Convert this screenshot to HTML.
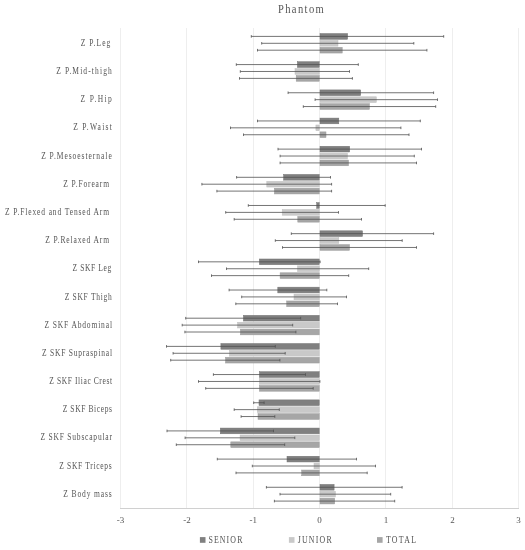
<!DOCTYPE html>
<html><head><meta charset="utf-8"><title>Phantom</title>
<style>
html,body{margin:0;padding:0;background:#fff;}
body{width:525px;height:550px;overflow:hidden;}
svg{display:block;}
text{font-family:'Liberation Serif', serif;fill:#555555;}
.tk{font-size:9px;}
</style></head>
<body>
<svg width="525" height="550" viewBox="0 0 525 550">
<rect x="0" y="0" width="525" height="550" fill="#fff"/>
<rect x="120" y="28" width="1" height="480" fill="#eeeeee"/>
<rect x="186" y="28" width="1" height="480" fill="#eeeeee"/>
<rect x="253" y="28" width="1" height="480" fill="#eeeeee"/>
<rect x="319" y="28" width="1" height="480" fill="#eeeeee"/>
<rect x="385" y="28" width="1" height="480" fill="#eeeeee"/>
<rect x="452" y="28" width="1" height="480" fill="#eeeeee"/>
<rect x="518" y="28" width="1" height="480" fill="#eeeeee"/>
<rect x="120" y="508" width="399" height="1" fill="#d0d0d0"/>
<rect x="320" y="33.55" width="27.6" height="5.7" fill="#808080" stroke="#737373" stroke-width="0.5"/>
<rect x="320" y="40.45" width="18" height="5.7" fill="#c9c9c9" stroke="#bebebe" stroke-width="0.5"/>
<rect x="320" y="47.35" width="22.2" height="5.7" fill="#a6a6a6" stroke="#9a9a9a" stroke-width="0.5"/>
<rect x="297.4" y="61.73" width="21.8" height="5.7" fill="#808080" stroke="#737373" stroke-width="0.5"/>
<rect x="295" y="68.63" width="24.2" height="5.7" fill="#c9c9c9" stroke="#bebebe" stroke-width="0.5"/>
<rect x="296.2" y="75.53" width="23" height="5.7" fill="#a6a6a6" stroke="#9a9a9a" stroke-width="0.5"/>
<rect x="320" y="89.91" width="40.7" height="5.7" fill="#808080" stroke="#737373" stroke-width="0.5"/>
<rect x="320" y="96.81" width="56.3" height="5.7" fill="#c9c9c9" stroke="#bebebe" stroke-width="0.5"/>
<rect x="320" y="103.71" width="49.4" height="5.7" fill="#a6a6a6" stroke="#9a9a9a" stroke-width="0.5"/>
<rect x="320" y="118.09" width="18.8" height="5.7" fill="#808080" stroke="#737373" stroke-width="0.5"/>
<rect x="315.9" y="124.99" width="3.3" height="5.7" fill="#c9c9c9" stroke="#bebebe" stroke-width="0.5"/>
<rect x="320" y="131.89" width="6" height="5.7" fill="#a6a6a6" stroke="#9a9a9a" stroke-width="0.5"/>
<rect x="320" y="146.27" width="29.7" height="5.7" fill="#808080" stroke="#737373" stroke-width="0.5"/>
<rect x="320" y="153.17" width="27.4" height="5.7" fill="#c9c9c9" stroke="#bebebe" stroke-width="0.5"/>
<rect x="320" y="160.07" width="28.5" height="5.7" fill="#a6a6a6" stroke="#9a9a9a" stroke-width="0.5"/>
<rect x="283.6" y="174.45" width="35.6" height="5.7" fill="#808080" stroke="#737373" stroke-width="0.5"/>
<rect x="266.8" y="181.35" width="52.4" height="5.7" fill="#c9c9c9" stroke="#bebebe" stroke-width="0.5"/>
<rect x="274.4" y="188.25" width="44.8" height="5.7" fill="#a6a6a6" stroke="#9a9a9a" stroke-width="0.5"/>
<rect x="316.7" y="202.63" width="2.5" height="5.7" fill="#808080" stroke="#737373" stroke-width="0.5"/>
<rect x="282.2" y="209.53" width="37" height="5.7" fill="#c9c9c9" stroke="#bebebe" stroke-width="0.5"/>
<rect x="297.8" y="216.43" width="21.4" height="5.7" fill="#a6a6a6" stroke="#9a9a9a" stroke-width="0.5"/>
<rect x="320" y="230.81" width="42.5" height="5.7" fill="#808080" stroke="#737373" stroke-width="0.5"/>
<rect x="320" y="237.71" width="18.8" height="5.7" fill="#c9c9c9" stroke="#bebebe" stroke-width="0.5"/>
<rect x="320" y="244.61" width="29.5" height="5.7" fill="#a6a6a6" stroke="#9a9a9a" stroke-width="0.5"/>
<rect x="259.3" y="258.99" width="59.9" height="5.7" fill="#808080" stroke="#737373" stroke-width="0.5"/>
<rect x="297.5" y="265.89" width="21.7" height="5.7" fill="#c9c9c9" stroke="#bebebe" stroke-width="0.5"/>
<rect x="280.1" y="272.79" width="39.1" height="5.7" fill="#a6a6a6" stroke="#9a9a9a" stroke-width="0.5"/>
<rect x="277.8" y="287.17" width="41.4" height="5.7" fill="#808080" stroke="#737373" stroke-width="0.5"/>
<rect x="294" y="294.07" width="25.2" height="5.7" fill="#c9c9c9" stroke="#bebebe" stroke-width="0.5"/>
<rect x="286.7" y="300.97" width="32.5" height="5.7" fill="#a6a6a6" stroke="#9a9a9a" stroke-width="0.5"/>
<rect x="243.4" y="315.35" width="75.8" height="5.7" fill="#808080" stroke="#737373" stroke-width="0.5"/>
<rect x="237.6" y="322.25" width="81.6" height="5.7" fill="#c9c9c9" stroke="#bebebe" stroke-width="0.5"/>
<rect x="240.4" y="329.15" width="78.8" height="5.7" fill="#a6a6a6" stroke="#9a9a9a" stroke-width="0.5"/>
<rect x="220.9" y="343.53" width="98.3" height="5.7" fill="#808080" stroke="#737373" stroke-width="0.5"/>
<rect x="229.4" y="350.43" width="89.8" height="5.7" fill="#c9c9c9" stroke="#bebebe" stroke-width="0.5"/>
<rect x="225.5" y="357.33" width="93.7" height="5.7" fill="#a6a6a6" stroke="#9a9a9a" stroke-width="0.5"/>
<rect x="259.4" y="371.71" width="59.8" height="5.7" fill="#808080" stroke="#737373" stroke-width="0.5"/>
<rect x="259.3" y="378.61" width="59.9" height="5.7" fill="#c9c9c9" stroke="#bebebe" stroke-width="0.5"/>
<rect x="259.4" y="385.51" width="59.8" height="5.7" fill="#a6a6a6" stroke="#9a9a9a" stroke-width="0.5"/>
<rect x="259" y="399.89" width="60.2" height="5.7" fill="#808080" stroke="#737373" stroke-width="0.5"/>
<rect x="257.3" y="406.79" width="61.9" height="5.7" fill="#c9c9c9" stroke="#bebebe" stroke-width="0.5"/>
<rect x="258" y="413.69" width="61.2" height="5.7" fill="#a6a6a6" stroke="#9a9a9a" stroke-width="0.5"/>
<rect x="220.3" y="428.07" width="98.9" height="5.7" fill="#808080" stroke="#737373" stroke-width="0.5"/>
<rect x="240.1" y="434.97" width="79.1" height="5.7" fill="#c9c9c9" stroke="#bebebe" stroke-width="0.5"/>
<rect x="230.8" y="441.87" width="88.4" height="5.7" fill="#a6a6a6" stroke="#9a9a9a" stroke-width="0.5"/>
<rect x="287" y="456.25" width="32.2" height="5.7" fill="#808080" stroke="#737373" stroke-width="0.5"/>
<rect x="314" y="463.15" width="5.2" height="5.7" fill="#c9c9c9" stroke="#bebebe" stroke-width="0.5"/>
<rect x="301.7" y="470.05" width="17.5" height="5.7" fill="#a6a6a6" stroke="#9a9a9a" stroke-width="0.5"/>
<rect x="320" y="484.43" width="14.1" height="5.7" fill="#808080" stroke="#737373" stroke-width="0.5"/>
<rect x="320" y="491.33" width="15.4" height="5.7" fill="#c9c9c9" stroke="#bebebe" stroke-width="0.5"/>
<rect x="320" y="498.23" width="14.7" height="5.7" fill="#a6a6a6" stroke="#9a9a9a" stroke-width="0.5"/>
<path d="M251.3 36.4H443.7M251.3 35.1V37.7M443.7 35.1V37.7" stroke="#505050" stroke-width="0.8" fill="none"/>
<path d="M261.7 43.3H413.8M261.7 42V44.6M413.8 42V44.6" stroke="#505050" stroke-width="0.8" fill="none"/>
<path d="M257.5 50.2H426.9M257.5 48.9V51.5M426.9 48.9V51.5" stroke="#505050" stroke-width="0.8" fill="none"/>
<path d="M236.3 64.58H358.3M236.3 63.28V65.88M358.3 63.28V65.88" stroke="#505050" stroke-width="0.8" fill="none"/>
<path d="M240.3 71.48H349.5M240.3 70.18V72.78M349.5 70.18V72.78" stroke="#505050" stroke-width="0.8" fill="none"/>
<path d="M239.5 78.38H352.4M239.5 77.08V79.68M352.4 77.08V79.68" stroke="#505050" stroke-width="0.8" fill="none"/>
<path d="M288.1 92.76H433.6M288.1 91.46V94.06M433.6 91.46V94.06" stroke="#505050" stroke-width="0.8" fill="none"/>
<path d="M315.1 99.66H437.5M315.1 98.36V100.96M437.5 98.36V100.96" stroke="#505050" stroke-width="0.8" fill="none"/>
<path d="M303.3 106.56H435.7M303.3 105.26V107.86M435.7 105.26V107.86" stroke="#505050" stroke-width="0.8" fill="none"/>
<path d="M257.5 120.94H420.3M257.5 119.64V122.24M420.3 119.64V122.24" stroke="#505050" stroke-width="0.8" fill="none"/>
<path d="M230.5 127.84H400.9M230.5 126.54V129.14M400.9 126.54V129.14" stroke="#505050" stroke-width="0.8" fill="none"/>
<path d="M243.5 134.74H409M243.5 133.44V136.04M409 133.44V136.04" stroke="#505050" stroke-width="0.8" fill="none"/>
<path d="M278 149.12H421.5M278 147.82V150.42M421.5 147.82V150.42" stroke="#505050" stroke-width="0.8" fill="none"/>
<path d="M280.1 156.02H414.3M280.1 154.72V157.32M414.3 154.72V157.32" stroke="#505050" stroke-width="0.8" fill="none"/>
<path d="M280.1 162.92H416.5M280.1 161.62V164.22M416.5 161.62V164.22" stroke="#505050" stroke-width="0.8" fill="none"/>
<path d="M236.6 177.3H330.5M236.6 176V178.6M330.5 176V178.6" stroke="#505050" stroke-width="0.8" fill="none"/>
<path d="M201.9 184.2H331.6M201.9 182.9V185.5M331.6 182.9V185.5" stroke="#505050" stroke-width="0.8" fill="none"/>
<path d="M216.9 191.1H331.6M216.9 189.8V192.4M331.6 189.8V192.4" stroke="#505050" stroke-width="0.8" fill="none"/>
<path d="M248.3 205.48H385.2M248.3 204.18V206.78M385.2 204.18V206.78" stroke="#505050" stroke-width="0.8" fill="none"/>
<path d="M225.7 212.38H338.5M225.7 211.08V213.68M338.5 211.08V213.68" stroke="#505050" stroke-width="0.8" fill="none"/>
<path d="M234.2 219.28H361.5M234.2 217.98V220.58M361.5 217.98V220.58" stroke="#505050" stroke-width="0.8" fill="none"/>
<path d="M291.3 233.66H433.6M291.3 232.36V234.96M433.6 232.36V234.96" stroke="#505050" stroke-width="0.8" fill="none"/>
<path d="M275.3 240.56H402.2M275.3 239.26V241.86M402.2 239.26V241.86" stroke="#505050" stroke-width="0.8" fill="none"/>
<path d="M282.5 247.46H416.5M282.5 246.16V248.76M416.5 246.16V248.76" stroke="#505050" stroke-width="0.8" fill="none"/>
<path d="M198.5 261.84H320.1M198.5 260.54V263.14M320.1 260.54V263.14" stroke="#505050" stroke-width="0.8" fill="none"/>
<path d="M226.5 268.74H368.7M226.5 267.44V270.04M368.7 267.44V270.04" stroke="#505050" stroke-width="0.8" fill="none"/>
<path d="M211.5 275.64H348.7M211.5 274.34V276.94M348.7 274.34V276.94" stroke="#505050" stroke-width="0.8" fill="none"/>
<path d="M229.1 290.02H326.8M229.1 288.72V291.32M326.8 288.72V291.32" stroke="#505050" stroke-width="0.8" fill="none"/>
<path d="M241.7 296.92H346.5M241.7 295.62V298.22M346.5 295.62V298.22" stroke="#505050" stroke-width="0.8" fill="none"/>
<path d="M235.8 303.82H337.5M235.8 302.52V305.12M337.5 302.52V305.12" stroke="#505050" stroke-width="0.8" fill="none"/>
<path d="M185.7 318.2H300.7M185.7 316.9V319.5M300.7 316.9V319.5" stroke="#505050" stroke-width="0.8" fill="none"/>
<path d="M182.2 325.1H292.7M182.2 323.8V326.4M292.7 323.8V326.4" stroke="#505050" stroke-width="0.8" fill="none"/>
<path d="M184.9 332H295.9M184.9 330.7V333.3M295.9 330.7V333.3" stroke="#505050" stroke-width="0.8" fill="none"/>
<path d="M166.5 346.38H275.3M166.5 345.08V347.68M275.3 345.08V347.68" stroke="#505050" stroke-width="0.8" fill="none"/>
<path d="M173.1 353.28H285.2M173.1 351.98V354.58M285.2 351.98V354.58" stroke="#505050" stroke-width="0.8" fill="none"/>
<path d="M170.7 360.18H279.9M170.7 358.88V361.48M279.9 358.88V361.48" stroke="#505050" stroke-width="0.8" fill="none"/>
<path d="M213.4 374.56H305.5M213.4 373.26V375.86M305.5 373.26V375.86" stroke="#505050" stroke-width="0.8" fill="none"/>
<path d="M198.5 381.46H319.9M198.5 380.16V382.76M319.9 380.16V382.76" stroke="#505050" stroke-width="0.8" fill="none"/>
<path d="M205.7 388.36H313.2M205.7 387.06V389.66M313.2 387.06V389.66" stroke="#505050" stroke-width="0.8" fill="none"/>
<path d="M253.7 402.74H264.1M253.7 401.44V404.04M264.1 401.44V404.04" stroke="#505050" stroke-width="0.8" fill="none"/>
<path d="M234.2 409.64H279.3M234.2 408.34V410.94M279.3 408.34V410.94" stroke="#505050" stroke-width="0.8" fill="none"/>
<path d="M241.1 416.54H274.8M241.1 415.24V417.84M274.8 415.24V417.84" stroke="#505050" stroke-width="0.8" fill="none"/>
<path d="M167 430.92H273.5M167 429.62V432.22M273.5 429.62V432.22" stroke="#505050" stroke-width="0.8" fill="none"/>
<path d="M185.1 437.82H294.8M185.1 436.52V439.12M294.8 436.52V439.12" stroke="#505050" stroke-width="0.8" fill="none"/>
<path d="M176.3 444.72H284.7M176.3 443.42V446.02M284.7 443.42V446.02" stroke="#505050" stroke-width="0.8" fill="none"/>
<path d="M217.3 459.1H356.5M217.3 457.8V460.4M356.5 457.8V460.4" stroke="#505050" stroke-width="0.8" fill="none"/>
<path d="M252.3 466H375.5M252.3 464.7V467.3M375.5 464.7V467.3" stroke="#505050" stroke-width="0.8" fill="none"/>
<path d="M236 472.9H367.2M236 471.6V474.2M367.2 471.6V474.2" stroke="#505050" stroke-width="0.8" fill="none"/>
<path d="M266.4 487.28H402.1M266.4 485.98V488.58M402.1 485.98V488.58" stroke="#505050" stroke-width="0.8" fill="none"/>
<path d="M280 494.18H390.7M280 492.88V495.48M390.7 492.88V495.48" stroke="#505050" stroke-width="0.8" fill="none"/>
<path d="M274.4 501.08H394.7M274.4 499.78V502.38M394.7 499.78V502.38" stroke="#505050" stroke-width="0.8" fill="none"/>
<text class="lb" transform="translate(80.65,45.9) scale(0.8,1)" font-size="9.4" textLength="37.06" lengthAdjust="spacing">Z P.Leg</text>
<text class="lb" transform="translate(56.25,74.08) scale(0.8,1)" font-size="9.4" textLength="69.38" lengthAdjust="spacing">Z P.Mid-thigh</text>
<text class="lb" transform="translate(80.4,102.26) scale(0.8,1)" font-size="9.4" textLength="39.19" lengthAdjust="spacing">Z P.Hip</text>
<text class="lb" transform="translate(73.3,130.44) scale(0.8,1)" font-size="9.4" textLength="48.06" lengthAdjust="spacing">Z P.Waist</text>
<text class="lb" transform="translate(41.2,158.62) scale(0.8,1)" font-size="9.4" textLength="88.19" lengthAdjust="spacing">Z P.Mesoesternale</text>
<text class="lb" transform="translate(63.35,186.8) scale(0.8,1)" font-size="9.4" textLength="57.06" lengthAdjust="spacing">Z P.Forearm</text>
<text class="lb" transform="translate(5.05,214.98) scale(0.8,1)" font-size="9.4" textLength="129.94" lengthAdjust="spacing">Z P.Flexed and Tensed Arm</text>
<text class="lb" transform="translate(45.3,243.16) scale(0.8,1)" font-size="9.4" textLength="79.62" lengthAdjust="spacing">Z P.Relaxed Arm</text>
<text class="lb" transform="translate(72.6,271.34) scale(0.8,1)" font-size="9.4" textLength="48.31" lengthAdjust="spacing">Z SKF Leg</text>
<text class="lb" transform="translate(64.65,299.52) scale(0.8,1)" font-size="9.4" textLength="58.87" lengthAdjust="spacing">Z SKF Thigh</text>
<text class="lb" transform="translate(44.6,327.7) scale(0.8,1)" font-size="9.4" textLength="84.25" lengthAdjust="spacing">Z SKF Abdominal</text>
<text class="lb" transform="translate(42,355.88) scale(0.8,1)" font-size="9.4" textLength="87.5" lengthAdjust="spacing">Z SKF Supraspinal</text>
<text class="lb" transform="translate(49.35,384.06) scale(0.8,1)" font-size="9.4" textLength="78.31" lengthAdjust="spacing">Z SKF Iliac Crest</text>
<text class="lb" transform="translate(62.65,412.24) scale(0.8,1)" font-size="9.4" textLength="61.69" lengthAdjust="spacing">Z SKF Biceps</text>
<text class="lb" transform="translate(40.45,440.42) scale(0.8,1)" font-size="9.4" textLength="89.44" lengthAdjust="spacing">Z SKF Subscapular</text>
<text class="lb" transform="translate(59.25,468.6) scale(0.8,1)" font-size="9.4" textLength="65.5" lengthAdjust="spacing">Z SKF Triceps</text>
<text class="lb" transform="translate(63.3,496.78) scale(0.8,1)" font-size="9.4" textLength="60.44" lengthAdjust="spacing">Z Body mass</text>
<text class="tt" transform="translate(278,12.8) scale(0.8,1)" font-size="13.2" textLength="57.19" lengthAdjust="spacing">Phantom</text>
<text class="lg" transform="translate(208.45,542.9) scale(0.82,1)" font-size="9.6" textLength="41.4" lengthAdjust="spacing">SENIOR</text>
<text class="lg" transform="translate(297.65,542.9) scale(0.82,1)" font-size="9.6" textLength="41.52" lengthAdjust="spacing">JUNIOR</text>
<text class="lg" transform="translate(385.95,542.9) scale(0.82,1)" font-size="9.6" textLength="36.65" lengthAdjust="spacing">TOTAL</text>
<text x="120.5" y="523.1" text-anchor="middle" class="tk">-3</text>
<text x="187" y="523.1" text-anchor="middle" class="tk">-2</text>
<text x="253.3" y="523.1" text-anchor="middle" class="tk">-1</text>
<text x="319.6" y="523.1" text-anchor="middle" class="tk">0</text>
<text x="386" y="523.1" text-anchor="middle" class="tk">1</text>
<text x="452.5" y="523.1" text-anchor="middle" class="tk">2</text>
<text x="518.4" y="523.1" text-anchor="middle" class="tk">3</text>
<rect x="199.9" y="537.1" width="5.6" height="5.7" fill="#808080"/>
<rect x="288.9" y="537.1" width="5.6" height="5.7" fill="#c9c9c9"/>
<rect x="377.0" y="537.1" width="5.6" height="5.7" fill="#a6a6a6"/>
</svg>
</body></html>
